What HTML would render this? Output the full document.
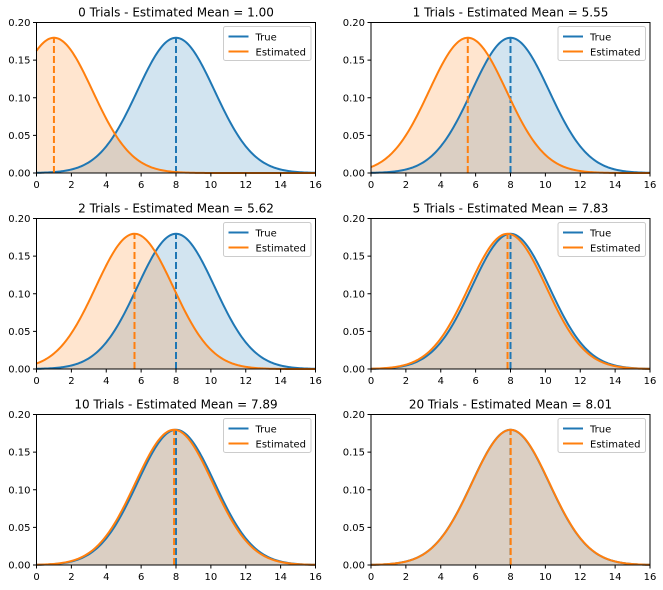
<!DOCTYPE html>
<html><head><meta charset="utf-8"><style>
body{margin:0;background:#fff;}
svg{display:block;font-family:"DejaVu Sans","Liberation Sans",sans-serif;}
</style></head><body>
<svg id="fig" width="663" height="590"></svg>
<script>
const trials = [0, 1, 2, 5, 10, 20];
const estMeans = [1.00, 5.55, 5.62, 7.83, 7.89, 8.01];
const trueMean = 8;
const sigma = 2.22;
const xTicks = [0,2,4,6,8,10,12,14,16];
const yTicks = [0.00,0.05,0.10,0.15,0.20];
const NS="http://www.w3.org/2000/svg";
const svg=document.getElementById('fig');
function mk(t,a,p){const e=document.createElementNS(NS,t);for(const k in a)e.setAttribute(k,a[k]);(p||svg).appendChild(e);return e;}
function pdf(x,m){return Math.exp(-(x-m)*(x-m)/(2*sigma*sigma))/(sigma*Math.sqrt(2*Math.PI));}
const lefts=[36.5,371], tops=[22.5,218.5,414.5], W=279, H=150.5;
const blue="#1f77b4", orange="#ff7f0e";
trials.forEach((tr,i)=>{
  const L=lefts[i%2], T=tops[Math.floor(i/2)];
  const g=mk('g',{});
  
  
  const sx=v=>L+v/16*W, sy=v=>T+H-v/0.2*H;
  function curve(m){let pts=[];for(let k=0;k<=200;k++){const x=16*k/200;pts.push(sx(x).toFixed(2)+','+sy(pdf(x,m)).toFixed(2));}return pts;}
  [[trueMean,blue,'true'],[estMeans[i],orange,'estimated']].forEach(([m,c,n])=>{
    const pts=curve(m);
    const f=mk('polygon',{points:sx(0)+','+sy(0)+' '+pts.join(' ')+' '+sx(16)+','+sy(0),fill:c,'fill-opacity':0.2},g);
    
    
  });
  [[trueMean,blue,'true'],[estMeans[i],orange,'estimated']].forEach(([m,c,n])=>{
    const pl=mk('polyline',{points:curve(m).join(' '),fill:'none',stroke:c,'stroke-width':2},g);
    
    
    const d=mk('line',{x1:sx(m),x2:sx(m),y1:sy(0),y2:sy(pdf(m,m)),stroke:c,'stroke-width':2,'stroke-dasharray':'7,3'},g);
    
    
  });
  const fr=mk('rect',{x:L,y:T,width:W,height:H,fill:'none',stroke:'#000','stroke-width':1},g);
  
  
  xTicks.forEach(v=>{
    mk('line',{x1:sx(v),x2:sx(v),y1:T+H,y2:T+H+3.5,stroke:'#000'},g);
    const t=mk('text',{x:sx(v),y:T+H+15,'font-size':10,'text-anchor':'middle',fill:'#000'},g);
    t.textContent=v;
    
    
  });
  yTicks.forEach(v=>{
    mk('line',{x1:L-3.5,x2:L,y1:sy(v),y2:sy(v),stroke:'#000'},g);
    const t=mk('text',{x:L-6,y:sy(v)+3.5,'font-size':10,'text-anchor':'end',fill:'#000'},g);
    t.textContent=v.toFixed(2);
    
    
  });
  const ti=mk('text',{x:L+W/2,y:T-6,'font-size':12,'text-anchor':'middle',fill:'#000'},g);
  ti.textContent=tr+' Trials - Estimated Mean = '+estMeans[i].toFixed(2);
  
  
  const lg=mk('g',{},g);
  
  
  const lx=L+W-92, ly=T+4;
  mk('rect',{x:lx,y:ly,width:87.5,height:34,fill:'#fff',stroke:'#ccc',rx:2},lg);
  [['True',blue],['Estimated',orange]].forEach(([n,c],j)=>{
    mk('line',{x1:lx+5,x2:lx+25,y1:ly+10+j*15,y2:ly+10+j*15,stroke:c,'stroke-width':2},lg);
    const t=mk('text',{x:lx+32,y:ly+14+j*15,'font-size':10,fill:'#000'},lg);
    t.textContent=n;
    
    
  });
});
</script>
</body></html>
